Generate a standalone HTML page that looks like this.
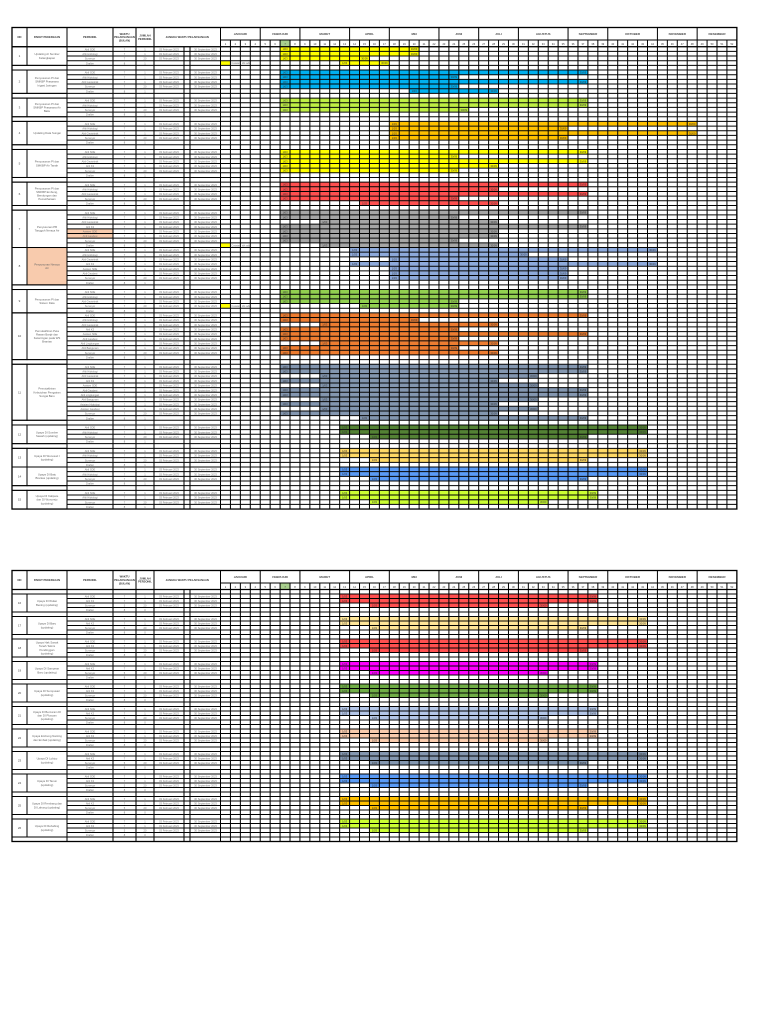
<!DOCTYPE html>
<html><head><meta charset="utf-8"><title>Jadwal Pelaksanaan</title>
<style>html,body{margin:0;padding:0;background:#fff;}svg{display:block;font-family:"Liberation Sans",sans-serif;}</style>
</head><body>
<svg id="chart" width="768" height="1024" viewBox="0 0 768 1024" xmlns="http://www.w3.org/2000/svg"></svg>
<script>
// ---------- DATA ----------
const months = ["JANUARI","FEBRUARI","MARET","APRIL","MEI","JUNI","JULI","AGUSTUS","SEPTEMBER","OKTOBER","NOVEMBER","DESEMBER"];
const monthWeeks = [4,4,5,4,5,4,4,5,4,5,4,4];
const headerLabels = ["NO","PAKET PEKERJAAN","PERSONIL","WAKTU PELAKSANAAN (BULAN)","JUMLAH PERSONIL","JANGKA WAKTU PELAKSANAAN"];

// page 1 groups
const p1GroupNo = [1,2,3,4,5,6,7,8,9,10,11,12,13,14,15];
const p1GroupName = ["Updating AI Sumber Kelangkapan","Penyusunan PI dan SMKBP Prasarana Irigasi Jaringan","Penyusunan PI dan SMKBP Prasarana Air Baku","Updating Data Sungai","Penyusunan PI dan SMKBP Air Tanah","Penyusunan PI dan SMKBP Embung, Bendungan dan Pemeliharaan","Penyusunan PB Tangguh Neraca Air","Penyusunan Neraca Air","Penyusunan PI dan Sistem Data","Pemutakhiran Peta Rawan Banjir dan Kekeringan pada WS Brantas","Pemutakhiran Kebutuhan Pengairan Sungai Baru","Upaya DI Sumber Sawah (updating)","Upaya DI Wonosari I (updating)","Upaya DI Batu Brantas (updating)","Upaya DI Kalipare dan DI Wonorejo (updating)"];
const p1GroupStart = [0,5,11,16,22,29,35,43,52,57,68,81,86,90,95];
const p1GroupEnd   = [3,9,14,20,27,33,42,50,56,66,79,84,89,93,98];
const p1Colors = ["#ffff00","#00b0f0","#bfef45","#ffc000","#ffff00","#ff5050","#a6a6a6","#8eaadb","#92d050","#ed7d31","#8497b0","#548235","#ffd966","#5b9bf5","#ccff33"];

// page 1 bars
const p1BarRow   = [0,1,2,3, 5,6,7,8,9, 11,12,13, 16,17,18,19, 22,23,24,25,26, 29,30,31,32,33, 35,36,37,38,39,40,41,42, 43,44,45,46,47,48,49, 52,53,54,55, 57,58,59,60,61,62,63,64,65, 68,69,70,71,72,73,74,75,76,77,78,79, 81,82,83, 86,87,88, 90,91,92, 95,96,97];
const p1BarStart = [6,6,6,12, 6,6,6,6,19, 6,6,6, 17,17,17,17, 6,6,6,6,6, 6,6,6,6,14, 6,6,10,6,6,6,6,10, 13,13,17,13,17,17,17, 6,6,6,14, 6,6,10,6,6,6,10,6,6, 6,6,10,6,10,6,6,10,6,10,6,14, 12,12,15, 12,12,15, 12,12,15, 12,12,15];
const p1BarEnd   = [20,20,15,17, 37,24,37,24,28, 37,37,25, 48,35,48,35, 37,24,37,28,24, 37,28,37,24,28, 37,24,28,37,28,28,24,28, 44,31,35,44,35,35,35, 37,37,24,24, 37,20,28,24,37,24,28,24,28, 37,37,32,28,32,37,37,32,28,32,28,37, 43,43,37, 43,43,37, 43,43,37, 38,38,33];
const p1BarGroup = [0,0,0,0, 1,1,1,1,1, 2,2,2, 3,3,3,3, 4,4,4,4,4, 5,5,5,5,5, 6,6,6,6,6,6,6,6, 7,7,7,7,7,7,7, 8,8,8,8, 9,9,9,9,9,9,9,9,9, 10,10,10,10,10,10,10,10,10,10,10,10, 11,11,11, 12,12,12, 13,13,13, 14,14,14];

// page 2 groups
const p2GroupNo = [16,17,18,19,20,21,22,23,24,25,26];
const p2GroupName = ["Upaya DI Wulan Bening (updating)","Upaya DI Baru (updating)","Upaya Hak Sanak Tanah Teknis Pendinggan (updating)","Upaya DI Sampean Baru (updating)","Upaya DI Sumpusari (updating)","Upaya DI Bercuram DI dan DI Plosoan (updating)","Upaya Embung Nanting dan Embak (updating)","Upaya DI Lobiyo (updating)","Upaya DI Tanun (updating)","Upaya DI Rembang dan DI Lahung (updating)","Upaya DI Rehabing (updating)"];
const p2Colors = ["#ff5050","#ffe699","#ff5050","#ff00ff","#70ad47","#b4c6e7","#f8cbad","#8497b0","#5b9bf5","#ffc000","#ccff33"];
const p2StartA = [12,12,12,12,12,12,12,12,12,12,12];
const p2EndA   = [38,43,43,38,38,38,38,43,43,43,43];
const p2StartB = [15,15,15,15,15,15,15,15,15,15,15];
const p2EndB   = [33,37,37,33,33,33,33,37,37,37,37];

const personnel = ["Ahli SDE","Ahli Hidrologi","Ahli Geoteknik","Ahli K3","Asisten SDE","Ahli Geodesi","Ahli Lingkungan","Ahli Bangunan","Asisten Hidrologi","Asisten Geodesi"];
const p2Personnel = ["Ahli SDE","Ahli K3","Surveyor","Drafter"];
const p2Waktu = ["7","7","5","8"];
const p2Jumlah = ["1","1","20","0"];

// ---------- LAYOUT ----------
const NS = "http://www.w3.org/2000/svg";
const svg = document.getElementById("chart");
const W0 = 220.5, WW = 9.93;
const colX = [12,27,67,113,136,154,W0];
const xw = i => W0 + i*WW;
const X1 = xw(52);

function mk(tag, attrs, parent){
  const e = document.createElementNS(NS, tag);
  for (const k in attrs) e.setAttribute(k, attrs[k]);
  (parent||svg).appendChild(e);
  return e;
}
function txt(x,y,s,size,opts){
  const t = mk('text', Object.assign({x:x,y:y,'font-size':size,'text-anchor':'middle',fill:'#555'}, opts||{}));
  t.textContent = s;
  return t;
}

function drawPage(p){
  const g = mk('g', {});
  
  
  const yr = r => p.bodyTop + r*p.rowH;
  const bodyBottom = yr(p.nRows);

  (p.shade||[]).forEach(s=>{
    const sh = mk('rect',{x:s[0],y:yr(s[1]),width:s[2]-s[0],height:yr(s[3]+1)-yr(s[1]),fill:'#f8cbad'},g);
    
    
  });

  p.bars.forEach(b=>{
    const r = mk('rect',{x:xw(b.s),y:yr(b.row)+0.3,width:xw(b.e)-xw(b.s),height:p.rowH-0.6,fill:b.c},g);
    
    
    const l1 = txt(xw(b.s)+WW/2, yr(b.row)+p.rowH*0.75, '1/03', 2.6, {fill:'#333'});
    
    
    g.appendChild(l1);
    const l2 = txt(xw(b.e)-WW/2, yr(b.row)+p.rowH*0.75, '30/09', 2.6, {fill:'#333'});
    
    
    g.appendChild(l2);
  });

  (p.notes||[]).forEach(n=>{
    const nr = mk('rect',{x:W0,y:yr(n)+0.4,width:WW,height:p.rowH-0.8,fill:'#ffff00'},g);
    
    
    const nt = txt(W0+WW+1, yr(n)+p.rowH*0.75, 'Catatan: tdk ada', 2.6, {'text-anchor':'start',fill:'#777'});
    
    
    g.appendChild(nt);
  });

  const hl = mk('rect',{x:xw(6),y:p.monthBottom,width:WW,height:p.headBottom-p.monthBottom,fill:'#a9d08e'},g);
  
  

  const st = '#000';
  for (let r=0;r<=p.nRows;r++){
    const ln = mk('line',{x1:colX[2],x2:X1,y1:yr(r),y2:yr(r),stroke:st,'stroke-width':1},g);
    
    
  }
  p.groups.forEach((gr,i)=>{
    const gy0 = yr(gr.s), gy1 = yr(gr.e+1);
    [[colX[0],colX[1]],[colX[1],colX[2]]].forEach((c,ci)=>{
      const b = mk('rect',{x:c[0],y:gy0,width:c[1]-c[0],height:gy1-gy0,fill:'none',stroke:st,'stroke-width':1},g);
      
      
    });
    const no = txt((colX[0]+colX[1])/2,(gy0+gy1)/2+1,String(gr.no),3,{fill:'#444'});
    
    
    g.appendChild(no);
    const words = gr.name.split(' ');
    const lines=[]; let cur='';
    words.forEach(w=>{ if((cur+' '+w).trim().length>20){lines.push(cur.trim());cur=w;} else cur+=' '+w; });
    if(cur.trim()) lines.push(cur.trim());
    lines.forEach((l,li)=>{
      const t = txt((colX[1]+colX[2])/2,(gy0+gy1)/2+1+(li-(lines.length-1)/2)*3.6,l,2.8,{fill:'#666'});
      
      
      g.appendChild(t);
    });
  });
  for (let r=0;r<=p.nRows;r++){
    const inGroup = p.groups.some(gr=>r>gr.s && r<=gr.e);
    if(!inGroup){
      const ln = mk('line',{x1:colX[0],x2:colX[2],y1:yr(r),y2:yr(r),stroke:st,'stroke-width':1},g);
      
      
    }
  }
  p.rowsText.forEach(rt=>{
    const y = yr(rt.r)+p.rowH*0.78;
    const a = txt((colX[2]+colX[3])/2,y,rt.name,2.6,{fill:'#777'});
    
    
    g.appendChild(a);
    const b = txt((colX[3]+colX[4])/2,y,rt.w,2.6,{fill:'#777'});
    
    
    g.appendChild(b);
    const c = txt((colX[4]+colX[5])/2,y,rt.j,2.6,{fill:'#777'});
    
    
    g.appendChild(c);
    if(rt.d){
      const d = txt(169,y,'03 Februari 2023',2.6,{fill:'#777'});
      
      
      g.appendChild(d);
      const e = txt(205.5,y,'30 September 2023',2.6,{fill:'#777'});
      
      
      g.appendChild(e);
    }
  });

  const vx = [colX[2],colX[3],colX[4],colX[5],184,190];
  vx.forEach(x=>{
    const top = (x===184||x===190)? p.headBottom : p.top;
    const ln = mk('line',{x1:x,x2:x,y1:top,y2:bodyBottom,stroke:st,'stroke-width':1},g);
    
    
  });
  for (let i=0;i<=52;i++){
    const ln = mk('line',{x1:xw(i),x2:xw(i),y1:p.monthBottom,y2:bodyBottom,stroke:st,'stroke-width':1},g);
    
    
  }
  const hb = mk('line',{x1:colX[0],x2:X1,y1:p.headBottom,y2:p.headBottom,stroke:st,'stroke-width':1.2},g);
  
  
  const mb = mk('line',{x1:W0,x2:X1,y1:p.monthBottom,y2:p.monthBottom,stroke:st,'stroke-width':1},g);
  
  
  let wi=0;
  months.forEach((m,mi)=>{
    const x0 = xw(wi), x1 = xw(wi+monthWeeks[mi]);
    const ml = mk('line',{x1:x0,x2:x0,y1:p.top,y2:p.monthBottom,stroke:st,'stroke-width':1},g);
    
    
    const mt = txt((x0+x1)/2,(p.top+p.monthBottom)/2+1,m,3,{fill:'#444','font-weight':'bold'});
    
    
    g.appendChild(mt);
    wi += monthWeeks[mi];
  });
  for (let i=0;i<52;i++){
    const wt = txt(xw(i)+WW/2,p.headBottom-1.6,String(i+1),2.6,{fill:'#333'});
    
    
    g.appendChild(wt);
  }
  headerLabels.forEach((h,i)=>{
    const cx = (colX[i]+colX[i+1])/2;
    const parts = h==="WAKTU PELAKSANAAN (BULAN)"?["WAKTU","PELAKSANAAN","(BULAN)"]:(h==="JUMLAH PERSONIL"?["JUMLAH","PERSONIL"]:[h]);
    parts.forEach((s,si)=>{
      const t = txt(cx,(p.top+p.headBottom)/2+1+(si-(parts.length-1)/2)*3.3,s,2.7,{fill:'#333','font-weight':'bold'});
      
      
      g.appendChild(t);
    });
  });
  [colX[0],colX[1]].forEach(x=>{
    const ln = mk('line',{x1:x,x2:x,y1:p.top,y2:p.headBottom,stroke:st,'stroke-width':1},g);
    
    
  });
  const ob = mk('rect',{x:colX[0],y:p.top,width:X1-colX[0],height:bodyBottom-p.top,fill:'none',stroke:'#000','stroke-width':1.3},g);
  
  
}

// ---------- BUILD PAGE 1 ----------
const p1Bars = p1BarRow.map((r,i)=>({row:r,s:p1BarStart[i],e:p1BarEnd[i],c:p1Colors[p1BarGroup[i]]}));
const p1Groups = p1GroupNo.map((n,i)=>({no:n,name:p1GroupName[i],s:p1GroupStart[i],e:p1GroupEnd[i]}));
const p1Rows = [];
p1Groups.forEach(gr=>{
  const n = gr.e-gr.s+1;
  for(let k=0;k<n;k++){
    let name = personnel[k%personnel.length];
    if(k===n-2) name='Surveyor';
    if(k===n-1) name='Drafter';
    p1Rows.push({r:gr.s+k,name:name,w:k===n-1?'8':'7',j:k===n-2?'20':'1',d:k!==n-1});
  }
});
drawPage({name:'page-1-table',top:27.5,monthBottom:40,headBottom:46.7,bodyTop:46.7,rowH:4.67,nRows:99,
  bars:p1Bars,groups:p1Groups,rowsText:p1Rows,notes:[3,42,55],
  shade:[[colX[1],43,colX[2],50],[colX[2],39,colX[3],40]]});

// ---------- BUILD PAGE 2 ----------
const p2Bars = [];
const p2Groups = [];
const p2Rows = [];
p2GroupNo.forEach((n,k)=>{
  const base = 1+5*k;
  p2Groups.push({no:n,name:p2GroupName[k],s:base,e:base+3});
  p2Bars.push({row:base,s:p2StartA[k],e:p2EndA[k],c:p2Colors[k]});
  p2Bars.push({row:base+1,s:p2StartA[k],e:p2EndA[k],c:p2Colors[k]});
  p2Bars.push({row:base+2,s:p2StartB[k],e:p2EndB[k],c:p2Colors[k]});
  for(let j=0;j<4;j++) p2Rows.push({r:base+j,name:p2Personnel[j],w:p2Waktu[j],j:p2Jumlah[j],d:j<3});
});
drawPage({name:'page-2-table',top:570.5,monthBottom:583,headBottom:589.5,bodyTop:589.5,rowH:4.5,nRows:56,
  bars:p2Bars,groups:p2Groups,rowsText:p2Rows,notes:[]});
</script>
</body></html>
